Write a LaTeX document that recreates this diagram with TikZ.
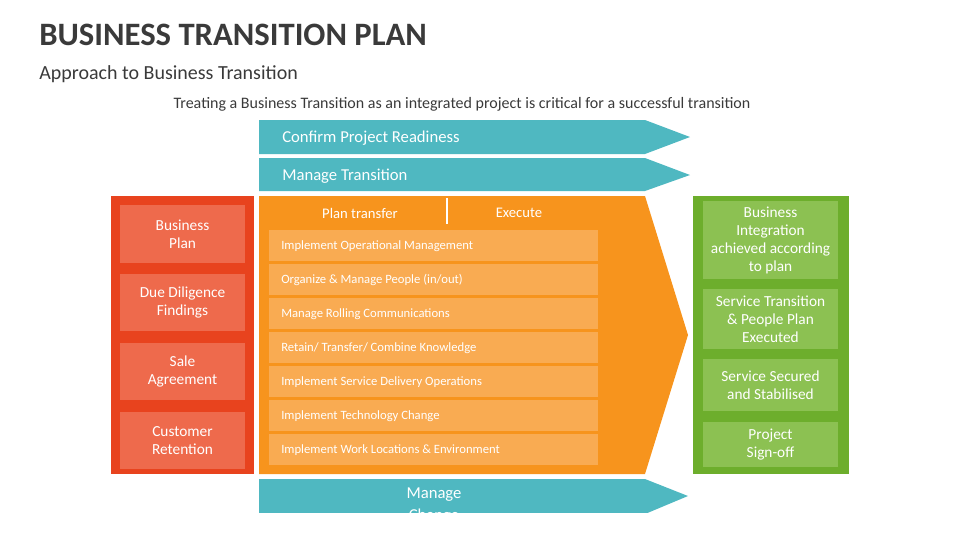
\documentclass[tikz,border=0pt]{standalone}
\usepackage{fontspec}
\setmainfont{Carlito}
\definecolor{teal}{HTML}{4FB8C1}
\definecolor{redd}{HTML}{E8431E}
\definecolor{redl}{HTML}{EE6A4C}
\definecolor{oran}{HTML}{F7941D}
\definecolor{oranl}{HTML}{F9AB52}
\definecolor{grn}{HTML}{6DAE2C}
\definecolor{grnl}{HTML}{8CC152}
\definecolor{ttl}{HTML}{3A3A3A}
\tikzset{
 lbox/.style={fill=redl,text=white,font=\fontsize{11.5}{13.5}\selectfont,align=center,inner sep=0},
 gbox/.style={fill=grnl,text=white,font=\fontsize{11.5}{13.5}\selectfont,align=center,inner sep=0},
 row/.style={fill=oranl,text=white,font=\fontsize{9.5}{11}\selectfont,inner sep=0},
 arrtxt/.style={text=white,font=\fontsize{12.5}{14}\selectfont,anchor=west,inner sep=0},
}
\begin{document}
\begin{tikzpicture}[x=0.75pt,y=-0.75pt]
\useasboundingbox (0,0) rectangle (960,540);
\node[anchor=west,text=ttl,font=\bfseries\fontsize{24.5}{28}\selectfont,inner sep=0] (title) at (39,35) {BUSINESS TRANSITION PLAN};
\node[anchor=west,text=ttl,font=\fontsize{15}{18}\selectfont,inner sep=0] (sub) at (39,74) {Approach to Business Transition};
\node[text=ttl,font=\fontsize{12}{14}\selectfont,inner sep=0] (tag) at (462,104) {Treating a Business Transition as an integrated project is critical for a successful transition};
% top arrows
\fill[teal] (259,120) -- (645,120) -- (690,137) -- (645,154) -- (259,154) -- cycle;
\node[arrtxt] (a1) at (282,138) {Confirm Project Readiness};
\fill[teal] (259,158) -- (645,158) -- (690,175) -- (645,191) -- (259,191) -- cycle;
\node[arrtxt] (a2) at (282,176) {Manage Transition};
% bottom arrow clipped
\begin{scope}
\clip (0,470) rectangle (960,512);
\fill[teal] (259,479) -- (645,479) -- (688,496) -- (645,514) -- (259,514) -- cycle;
\node[text=white,font=\fontsize{12.5}{16}\selectfont,align=center,anchor=north,inner sep=0] (a3) at (434,488) {Manage\\Change};
\end{scope}
% red panel
\fill[redd] (111,196) rectangle (254,474);
\node[lbox,minimum width=94pt,minimum height=43pt] (l1) at (182.5,234) {Business\\Plan};
\node[lbox,minimum width=94pt,minimum height=43pt] (l2) at (182.5,302.5) {Due Diligence\\Findings};
\node[lbox,minimum width=94pt,minimum height=43pt] (l3) at (182.5,371.5) {Sale\\Agreement};
\node[lbox,minimum width=94pt,minimum height=43pt] (l4) at (182.5,440.5) {Customer\\Retention};
% orange panel
\fill[oran] (259,196) -- (645,196) -- (688,335) -- (645,474) -- (259,474) -- cycle;
\draw[white,line width=1.5pt] (447,198) -- (447,224);
\node[text=white,font=\fontsize{11}{13}\selectfont,inner sep=0] (h1) at (360,213) {Plan transfer};
\node[text=white,font=\fontsize{11}{13}\selectfont,inner sep=0] (h2) at (519,213) {Execute};
\foreach \t [count=\i] in {Implement Operational Management,Organize \& Manage People (in/out),Manage Rolling Communications,Retain/ Transfer/ Combine Knowledge,Implement Service Delivery Operations,Implement Technology Change,Implement Work Locations \& Environment}{
  \fill[oranl] (269,{230+34*(\i-1)}) rectangle (598,{261+34*(\i-1)});
  \node[text=white,font=\fontsize{9.5}{11}\selectfont,anchor=west,inner sep=0] (r\i) at (281,{246+34*(\i-1)}) {\t};
}
% green panel
\fill[grn] (693,196) rectangle (849,474);
\node[gbox,minimum width=101pt,minimum height=58.5pt] (g1) at (770.5,240) {Business\\Integration\\achieved according\\to plan};
\node[gbox,minimum width=101pt,minimum height=45pt] (g2) at (770.5,319) {Service Transition\\\& People Plan\\Executed};
\node[gbox,minimum width=101pt,minimum height=39pt] (g3) at (770.5,385) {Service Secured\\and Stabilised};
\node[gbox,minimum width=101pt,minimum height=34pt] (g4) at (770.5,444.5) {Project\\Sign-off};
\end{tikzpicture}
\end{document}
